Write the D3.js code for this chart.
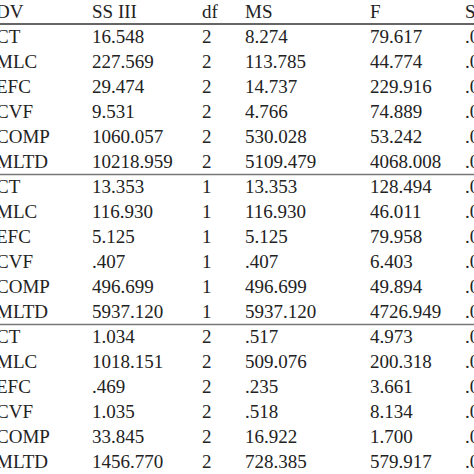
<!DOCTYPE html>
<html><head><meta charset="utf-8">
<script src="https://cdn.jsdelivr.net/npm/d3@7"></script>
<style>body{margin:0;background:#fff}</style>
</head><body>
<div id="tabla"></div>
<script>
// -- Datos de la tabla
columnas = ['DV', 'SS III', 'df', 'MS', 'F', 'Sig.']
dvs = ['CT', 'MLC', 'EFC', 'CVF', 'COMP', 'MLTD']
ssIII = ['16.548', '227.569', '29.474', '9.531', '1060.057', '10218.959',
         '13.353', '116.930', '5.125', '.407', '496.699', '5937.120',
         '1.034', '1018.151', '.469', '1.035', '33.845', '1456.770']
dfs = ['2', '2', '2', '2', '2', '2', '1', '1', '1', '1', '1', '1', '2', '2', '2', '2', '2', '2']
ms = ['8.274', '113.785', '14.737', '4.766', '530.028', '5109.479',
      '13.353', '116.930', '5.125', '.407', '496.699', '5937.120',
      '.517', '509.076', '.235', '.518', '16.922', '728.385']
fs = ['79.617', '44.774', '229.916', '74.889', '53.242', '4068.008',
      '128.494', '46.011', '79.958', '6.403', '49.894', '4726.949',
      '4.973', '200.318', '3.661', '8.134', '1.700', '579.917']
sig = Array(18).fill('.000')

filas = ssIII.map((s, i) => [dvs[i % 6], s, dfs[i], ms[i], fs[i], sig[i]])

ancho = 474, alto = 474
svg = d3.select('#tabla').append('svg').attr('width', ancho).attr('height', alto)

x = d3.scaleOrdinal().domain(columnas).range([-4, 92, 202, 245, 370, 465])
y = d3.scaleLinear().domain([0, 17]).range([43, 468])

// -- Encabezado
svg.selectAll('text.h').data(columnas).enter().append('text')
   .attr('class', 'h')
   .attr('x', d => x(d)).attr('y', 18)
   .text(d => d)

// -- Líneas separadoras (bajo el encabezado y entre bloques)
svg.append('line')
   .attr('x1', 0).attr('x2', ancho).attr('y1', 24).attr('y2', 24)
   .attr('stroke', '#666').attr('stroke-width', 2)
svg.selectAll('line.sep').data([5.5, 11.5]).enter().append('line')
   .attr('class', 'sep')
   .attr('x1', 0).attr('x2', ancho)
   .attr('y1', d => y(d) - 6).attr('y2', d => y(d) - 6)
   .attr('stroke', '#777').attr('stroke-width', 1.5)

// -- Filas
g = svg.selectAll('g.fila').data(filas).enter().append('g')
   .attr('transform', (d, i) => `translate(0,${y(i)})`)
g.selectAll('text').data(d => d).enter().append('text')
   .attr('x', (d, j) => x(columnas[j]))
   .text(d => d)

svg.selectAll('text')
   .attr('font-family', 'Liberation Serif')
   .attr('font-size', '19px')
   .attr('fill', '#222')
</script>
</body></html>
